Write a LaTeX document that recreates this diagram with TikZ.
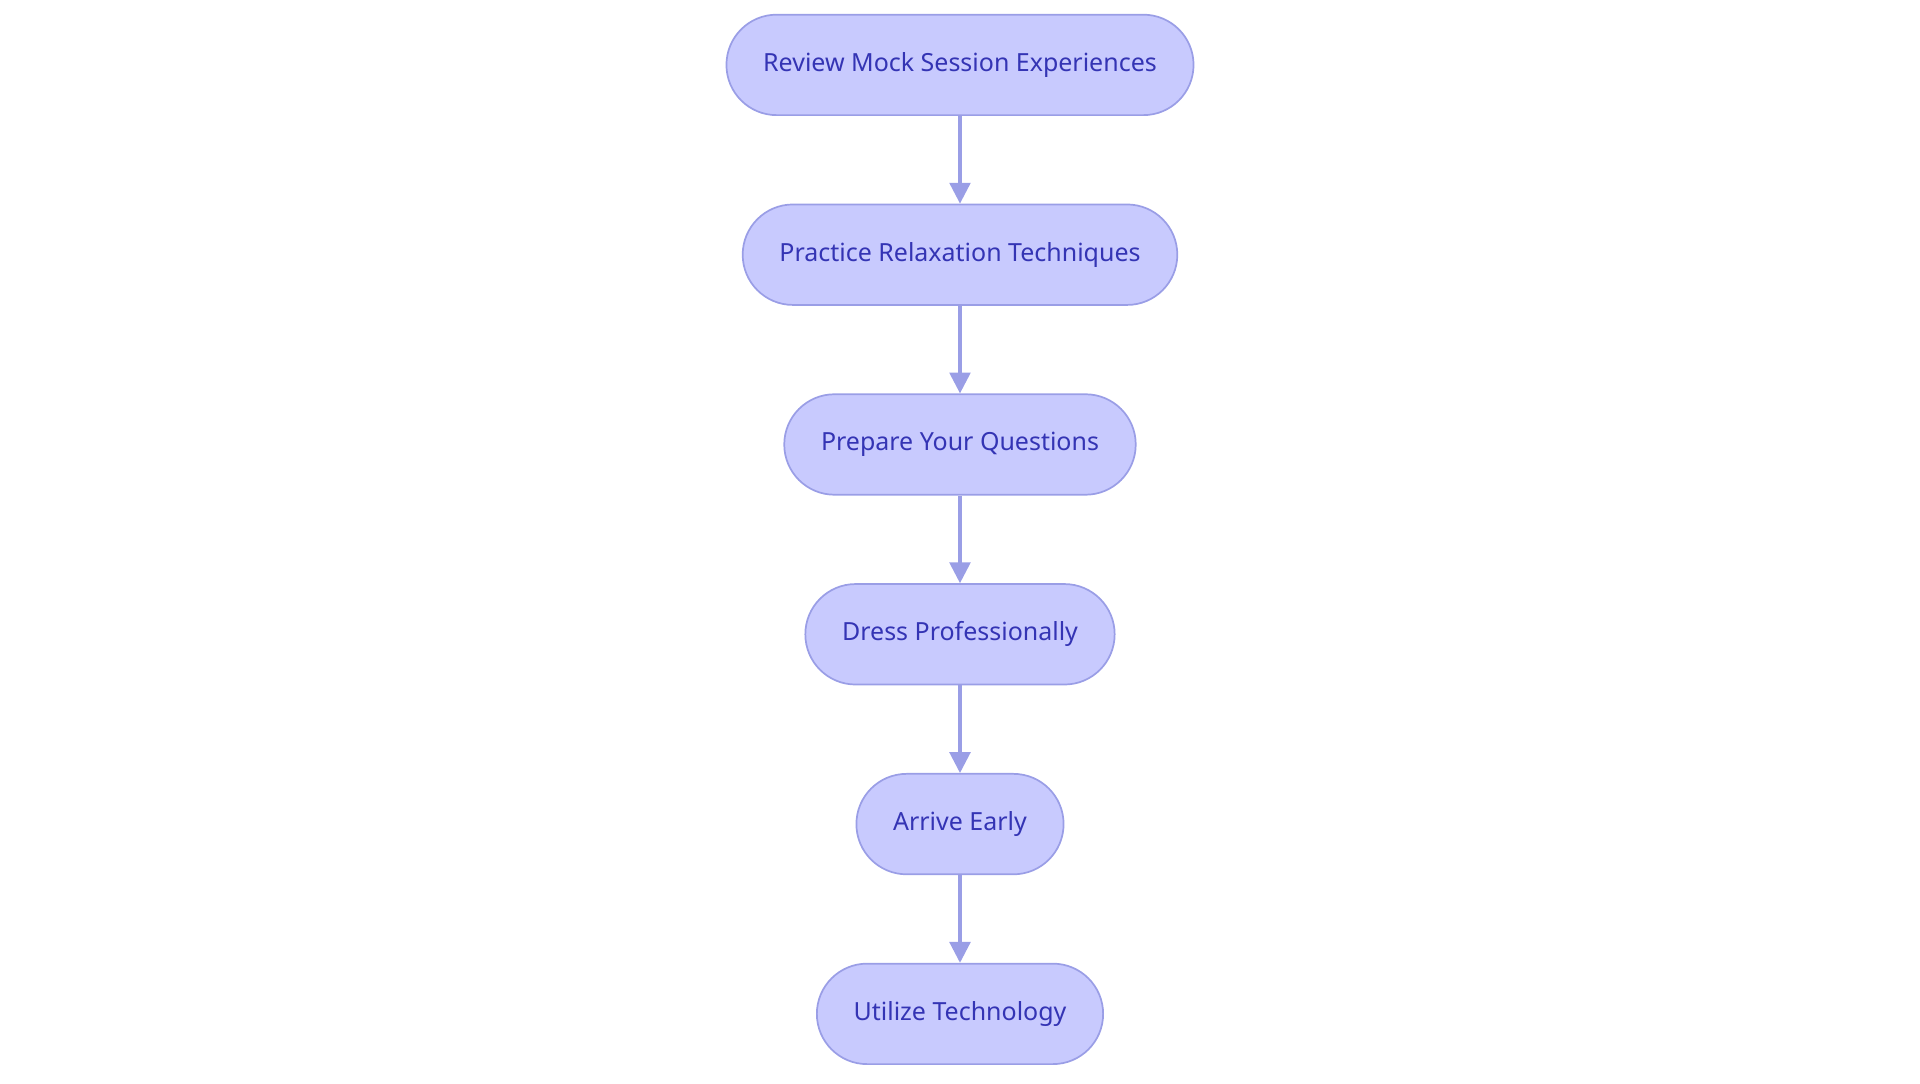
\documentclass[tikz,border=0pt]{standalone}
\usepackage{fontspec}
\setmainfont{Noto Sans}
\usetikzlibrary{positioning,arrows.meta}
\definecolor{stepfill}{HTML}{C8CAFE}
\definecolor{stepline}{HTML}{9A9EE6}
\definecolor{steptext}{HTML}{3434B4}
\tikzset{
  stage/.style={draw=stepline, fill=stepfill, text=steptext, rounded corners=0.41cm,
    minimum height=0.82cm, inner xsep=0.3cm, font=\fontsize{5.8}{7}\selectfont},
  flow/.style={draw=stepline, line width=0.7pt, -{Triangle[length=0.17cm,width=0.17cm]}}
}
\begin{document}
\begin{tikzpicture}[x=0.01cm,y=-0.01cm]
    \useasboundingbox (0,0) rectangle (1568,884.5);
    \node[stage, minimum width=3.78cm] (review) at (784,53) {Review Mock Session Experiences};
    \node[stage, minimum width=3.53cm] (relax) at (784,208) {Practice Relaxation Techniques};
    \node[stage, minimum width=2.77cm] (questions) at (784,363) {Prepare Your Questions};
    \node[stage, minimum width=2.45cm] (dress) at (784,518) {Dress Professionally};
    \node[stage, minimum width=1.63cm] (early) at (784,673) {Arrive Early};
    \node[stage, minimum width=2.27cm] (tech) at (784,828) {Utilize Technology};
    \draw[flow] (review) -- (relax);
    \draw[flow] (relax) -- (questions);
    \draw[flow] (questions) -- (dress);
    \draw[flow] (dress) -- (early);
    \draw[flow] (early) -- (tech);
\end{tikzpicture}
\end{document}
